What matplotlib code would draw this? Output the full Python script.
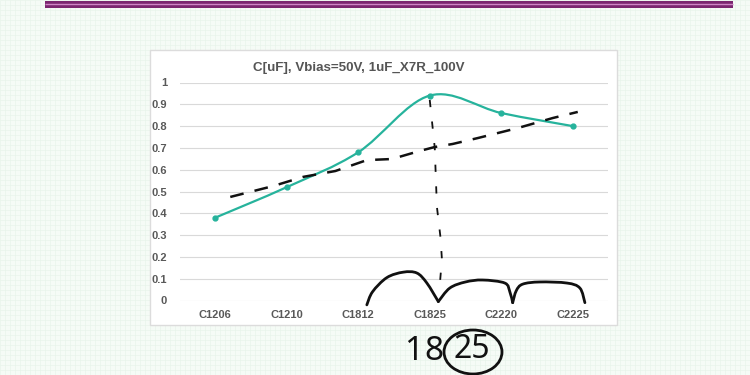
import matplotlib
matplotlib.use("Agg")
import matplotlib.pyplot as plt
from matplotlib.path import Path
from matplotlib.patches import PathPatch, Rectangle, Ellipse
import numpy as np

plt.rcParams['font.family'] = ['Liberation Sans', 'DejaVu Sans']

# chart data
categories = ["C1206", "C1210", "C1812", "C1825", "C2220", "C2225"]
cap_uF = [0.38, 0.52, 0.68, 0.94, 0.86, 0.80]
y_ticks = [0, 0.1, 0.2, 0.3, 0.4, 0.5, 0.6, 0.7, 0.8, 0.9, 1]
y_tick_labels = ["0", "0.1", "0.2", "0.3", "0.4", "0.5", "0.6", "0.7", "0.8", "0.9", "1"]
title = "C[uF], Vbias=50V, 1uF_X7R_100V"

# hand-drawn annotations, in category/value units
trend_x = [0.21, 0.81, 1.23, 1.68, 2.12, 2.47, 2.86, 3.07, 3.32, 3.67, 4.23, 4.72, 5.07]
trend_y = [0.475, 0.525, 0.567, 0.594, 0.644, 0.649, 0.686, 0.704, 0.718, 0.745, 0.791, 0.837, 0.865]
drop_x = [3.00, 3.07, 3.10, 3.15, 3.17, 3.14]
drop_y = [0.92, 0.70, 0.43, 0.29, 0.19, 0.07]
arc1_x = [2.12, 2.20, 2.40, 2.63, 2.82, 2.96, 3.12]
arc1_y = [-0.02, 0.04, 0.105, 0.13, 0.126, 0.08, -0.005]
arc2_x = [3.12, 3.28, 3.50, 3.74, 4.05, 4.12, 4.16]
arc2_y = [-0.005, 0.057, 0.085, 0.094, 0.08, 0.04, -0.01]
arc3_x = [4.16, 4.21, 4.30, 4.54, 4.92, 5.10, 5.17]
arc3_y = [-0.01, 0.045, 0.075, 0.085, 0.08, 0.057, -0.01]

teal = "#26b39c"
grey_txt = "#595959"
ink = "#111111"


def smooth_path(x, y):
    # bezier through the points, same idea as Excel's smoothed line
    pts = np.column_stack([np.asarray(x, float), np.asarray(y, float)])
    n = len(pts)
    verts = [pts[0]]
    codes = [Path.MOVETO]
    for i in range(n - 1):
        p0 = pts[max(i - 1, 0)]
        p1 = pts[i]
        p2 = pts[i + 1]
        p3 = pts[min(i + 2, n - 1)]
        verts += [p1 + (p2 - p0) / 6, p2 - (p3 - p1) / 6, p2]
        codes += [Path.CURVE4] * 3
    return Path(verts, codes)


fig = plt.figure(figsize=(7.5, 3.75), dpi=100)
fig.patch.set_facecolor("#f5fbf6")

# background: graph paper, purple rule, white chart box
bg = fig.add_axes([0, 0, 1, 1], zorder=0)
bg.set_xlim(0, 750)
bg.set_ylim(375, 0)
bg.axis("off")
bg.vlines(np.arange(0, 751, 5), 0, 375, color="#e6f3e9", lw=0.4, zorder=0.5)
bg.hlines(np.arange(0, 376, 5), 0, 750, color="#e6f3e9", lw=0.4, zorder=0.5)
bg.add_patch(Rectangle((45, 0.5), 688, 7, color="#7b2670", lw=0, zorder=2))
bg.plot([45, 733], [4.0, 4.0], color="#cf86c5", lw=1.0, solid_capstyle="butt", zorder=3)
bg.add_patch(Rectangle((150, 50), 467, 275, facecolor="white", edgecolor="#dcdcdc", lw=1, zorder=2))

# handwritten "18(25)"
bg.text(414, 352, "1", fontsize=24, family="Noto Sans", ha="center", va="center", color=ink, zorder=4)
bg.text(434, 352, "8", fontsize=24, family="Noto Sans", ha="center", va="center", color=ink, zorder=4)
bg.text(472, 350, "25", fontsize=23, family="Noto Sans", ha="center", va="center", color=ink, zorder=4)
bg.add_patch(Ellipse((473, 352), 58, 44, fill=False, edgecolor=ink, lw=2, zorder=4))

# main chart
ax = fig.add_axes([179.5 / 750, 74.5 / 375, 429 / 750, 218 / 375], zorder=2)
ax.set_facecolor("none")
ax.set_xlim(-0.5, len(categories) - 0.5)
ax.set_ylim(0, 1)
for s in ax.spines.values():
    s.set_visible(False)
ax.set_yticks(y_ticks)
ax.set_yticklabels(y_tick_labels)
ax.set_xticks(range(len(categories)))
ax.set_xticklabels(categories)
ax.tick_params(length=0, labelsize=8, labelcolor=grey_txt)
for lbl in ax.get_xticklabels() + ax.get_yticklabels():
    lbl.set_fontweight("bold")
ax.tick_params(axis="x", pad=7)
ax.tick_params(axis="y", pad=9)
ax.yaxis.grid(True, color="#d9d9d9", lw=0.8)
ax.set_axisbelow(True)

# series
ax.add_patch(PathPatch(smooth_path(range(len(cap_uF)), cap_uF), fill=False,
                       edgecolor=teal, lw=1.6, zorder=3))
ax.plot(range(len(cap_uF)), cap_uF, "o", color=teal, ms=3.5, zorder=4)

# hand drawn marks
ax.plot(trend_x, trend_y, color=ink, lw=1.8, ls=(0, (5.5, 4.5)), clip_on=False, zorder=5)
ax.plot(drop_x, drop_y, color=ink, lw=1.3, ls=(0, (4, 8)), clip_on=False, zorder=5)
for axs, ays in [(arc1_x, arc1_y), (arc2_x, arc2_y), (arc3_x, arc3_y)]:
    ax.add_patch(PathPatch(smooth_path(axs, ays), fill=False, edgecolor=ink, lw=2,
                           capstyle="round", joinstyle="round", clip_on=False, zorder=5))

fig.text(359 / 750, 1 - 68 / 375, title, fontsize=9.6, fontweight="bold", color="#555555",
         ha="center", va="center")

fig.savefig("out.png", dpi=100, facecolor=fig.get_facecolor())
